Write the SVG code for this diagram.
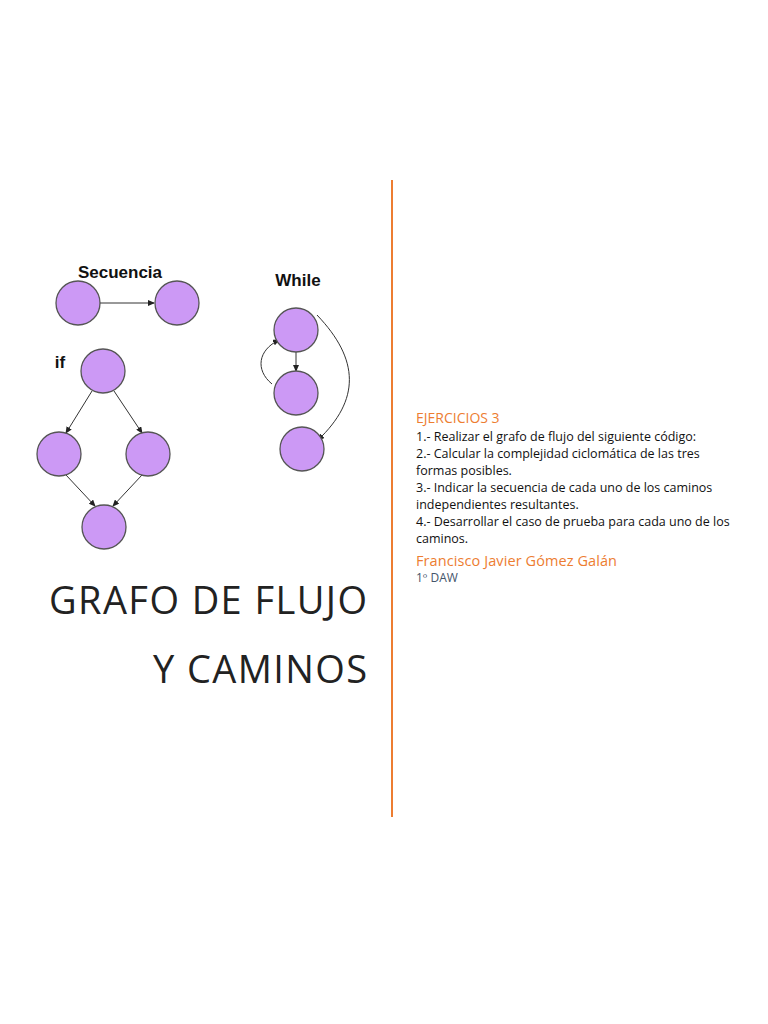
<svg xmlns="http://www.w3.org/2000/svg" width="768" height="1024" viewBox="0 0 768 1024">
<style>
.n{fill:#cc99f5;stroke:#555;stroke-width:1.3}
.e{stroke:#333;stroke-width:1;fill:none;marker-end:url(#a)}
.lb{font-family:"Liberation Sans",Arial,sans-serif;font-weight:bold;font-size:17px;fill:#111}
.t{font-family:"Open Sans","Liberation Sans",sans-serif;font-size:12.5px;fill:#111}
.o{fill:#ed7d31}
</style>
<defs><marker id="a" markerWidth="7" markerHeight="6" refX="6" refY="3" orient="auto"><path d="M0,0L7,3L0,6z" fill="#222"/></marker></defs>
<rect width="768" height="1024" fill="#fff"/>
<text class="lb" x="120" y="278" text-anchor="middle">Secuencia</text>
<text class="lb" x="298" y="286" text-anchor="middle">While</text>
<text class="lb" x="60" y="368" text-anchor="middle">if</text>
<g id="connectors">
<path class="e" d="M100,303H154"/>
<path class="e" d="M92,391L66,433"/>
<path class="e" d="M114,391L142,433"/>
<path class="e" d="M66,475L95,506"/>
<path class="e" d="M142,475L113,506"/>
<path class="e" d="M296,352V371"/>
<path class="e" d="M272,384C255,370 258,350 279,340"/>
<path class="e" d="M317,315C360,360 360,400 318,440"/>
</g>
<g id="s1"><circle class="n" cx="78" cy="303" r="22"/></g>
<g id="s2"><circle class="n" cx="177" cy="303" r="22"/></g>
<g id="i1"><circle class="n" cx="103" cy="371" r="22"/></g>
<g id="i2"><circle class="n" cx="59" cy="454" r="22"/></g>
<g id="i3"><circle class="n" cx="148" cy="454" r="22"/></g>
<g id="i4"><circle class="n" cx="104" cy="527" r="22"/></g>
<g id="w1"><circle class="n" cx="296" cy="330" r="22"/></g>
<g id="w2"><circle class="n" cx="296" cy="393" r="22"/></g>
<g id="w3"><circle class="n" cx="302" cy="449" r="22"/></g>
<line x1="392" y1="180" x2="392" y2="817" stroke="#ed7d31" stroke-width="2"/>
<g font-family="'Open Sans','Liberation Sans',sans-serif" font-size="38" fill="#222" text-anchor="end">
<text x="367" y="614" textLength="318">GRAFO DE FLUJO</text>
<text x="367" y="683" textLength="214">Y CAMINOS</text>
</g>
<text class="t o" x="416" y="423" style="font-size:14px">EJERCICIOS 3</text>
<text class="t" x="416" y="441">1.- Realizar el grafo de flujo del siguiente código:</text>
<text class="t" x="416" y="458">2.- Calcular la complejidad ciclomática de las tres</text>
<text class="t" x="416" y="475">formas posibles.</text>
<text class="t" x="416" y="492">3.- Indicar la secuencia de cada uno de los caminos</text>
<text class="t" x="416" y="509">independientes resultantes.</text>
<text class="t" x="416" y="526">4.- Desarrollar el caso de prueba para cada uno de los</text>
<text class="t" x="416" y="543">caminos.</text>
<text class="t o" x="416" y="566" style="font-size:14.5px" textLength="201">Francisco Javier Gómez Galán</text>
<text class="t" x="416" y="582" style="font-size:12px;fill:#44546a">1º DAW</text>
</svg>
